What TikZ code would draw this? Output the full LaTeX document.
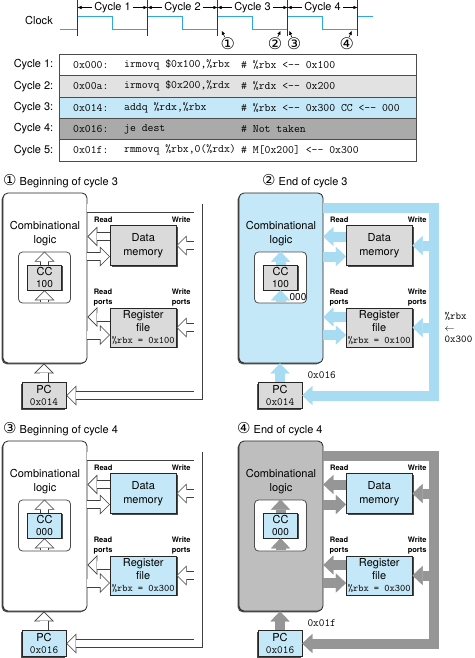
\documentclass[tikz,border=0pt]{standalone}
\usepackage{fontspec}
\setmainfont{TeX Gyre Heros}
\newfontfamily\circfont{DejaVu Sans}
\usepackage{tikz}
\usetikzlibrary{arrows.meta,shadows}

\definecolor{clockblue}{RGB}{45,170,220}
\definecolor{paleblue}{RGB}{196,232,247}
\definecolor{busblue}{RGB}{168,220,243}
\definecolor{boxgray}{RGB}{218,218,218}
\definecolor{rowgray}{RGB}{226,226,226}
\definecolor{darkrow}{RGB}{170,170,170}
\definecolor{clgray}{RGB}{190,190,190}
\definecolor{busgray}{RGB}{150,150,150}

\newcommand{\drawBus}[2]{
    % feedback bus to the state elements
    \draw[#1] (cl#2.east |- ne#2) -- (ne#2) -- (se#2) -- (pc#2.east |- se#2);
    \draw[#1] (ne#2 |- dm#2.east) -- (dm#2.east);
    \draw[#1] (ne#2 |- rf#2.east) -- (rf#2.east);
    % read and write ports
    \draw[#1] (dmr#2) -- (dmr#2 -| cl#2.east);
    \draw[#1] (dmw#2 -| cl#2.east) -- (dmw#2);
    \draw[#1] (rfr#2) -- (rfr#2 -| cl#2.east);
    \draw[#1] (rfw#2 -| cl#2.east) -- (rfw#2);
    % PC and condition codes
    \draw[#1] (pc#2.north) -- (pc#2.north |- cl#2.south);
    \draw[#1] (cc#2.north) -- (cc#2.north |- ccout#2.north);
    \draw[#1] (ccb#2) -- (cc#2.south);
}

\newcommand{\drawStage}[8]{
    \begin{scope}[shift={(#1)}]
        \node[clbox,fill=#3] (cl#2) at (45,278) {};
        \node[txt,align=center] (cltext#2) at (45,234) {Combinational\\logic};
        \node[ccframe] (ccout#2) at (44.5,277.5) {};
        \node[unit,fill=#4,minimum width=34pt,minimum height=25pt] (cc#2) at (44.5,277.5) {CC\\{\fontsize{10}{12}\selectfont #6}};
        \node[unit,fill=#4,minimum width=66pt,minimum height=40pt,font=\fontsize{11}{14}\selectfont] (dm#2) at (143.25,245.5) {Data\\memory};
        \node[unit,fill=#4,minimum width=66pt,minimum height=39pt,font=\fontsize{11}{12.5}\selectfont] (rf#2) at (143.25,327.5) {Register\\file\\{\ttfamily\fontsize{10}{12.5}\selectfont\%rbx = #7}};
        \node[pcunit,fill=#4] (pc#2) at (44,395.5) {PC\\{\ttfamily\fontsize{11}{11.6}\selectfont #8}};

        \node[port] (dmread#2) at (103.3,219.3) {Read};
        \node[port] (dmwrite#2) at (181.2,219.3) {Write};
        \node[port] (rfread#2) at (103,297.5) {Read\\ports};
        \node[port] (rfwrite#2) at (181.2,297.5) {Write\\ports};

        % --- Bus corners and port offsets ---
        \coordinate (ne#2) at (198,208);
        \coordinate (se#2) at (198,395.5);
        \coordinate (dmr#2) at ([yshift=9pt]dm#2.west);
        \coordinate (dmw#2) at ([yshift=-11pt]dm#2.west);
        \coordinate (rfr#2) at ([yshift=10.5pt]rf#2.west);
        \coordinate (rfw#2) at ([yshift=-7.5pt]rf#2.west);
        \coordinate (ccb#2) at ([yshift=1pt]ccout#2.south);

        \drawBus{#5A}{#2}
        \drawBus{#5B}{#2}
    \end{scope}
}

\begin{document}
\begin{tikzpicture}[x=1pt,y=-1pt,>={Latex[length=4pt,width=3.5pt]},
    txt/.style={font=\fontsize{11}{14}\selectfont,inner sep=0pt},
    wave/.style={draw=clockblue,line width=1pt},
    edgeline/.style={draw=black!80,line width=0.6pt},
    cyclab/.style={font=\fontsize{11}{13}\selectfont,inner sep=2pt},
    marker/.style={font=\circfont\fontsize{16}{16}\selectfont,inner sep=0pt},
    pointer/.style={->,line width=0.6pt},
    rowbox/.style={draw=black!70,line width=0.8pt,minimum width=356.7pt,minimum height=21.33pt,inner sep=0pt},
    code/.style={font=\ttfamily\fontsize{11.4}{13}\selectfont,anchor=west,inner sep=0pt},
    rowlab/.style={font=\fontsize{11}{13}\selectfont,anchor=east,inner sep=0pt},
    stagetitle/.style={font=\fontsize{11}{13}\selectfont,anchor=west,inner sep=0pt},
    clbox/.style={draw=black!85,line width=0.8pt,rounded corners=5pt,minimum width=84pt,minimum height=170pt,inner sep=0pt,
        drop shadow={shadow xshift=-1.3pt,shadow yshift=-1.3pt,fill=black!70,opacity=1}},
    ccframe/.style={draw=black!70,line width=0.8pt,rounded corners=4pt,fill=white,minimum width=52pt,minimum height=51pt,inner sep=0pt},
    unit/.style={draw=black!85,line width=0.7pt,align=center,inner sep=0pt,font=\fontsize{11}{12.3}\selectfont,
        drop shadow={shadow xshift=1.3pt,shadow yshift=-1.3pt,fill=black!70,opacity=1}},
    pcunit/.style={draw=black!85,line width=0.7pt,align=center,inner sep=0pt,font=\fontsize{11}{11.6}\selectfont,
        minimum width=44pt,minimum height=26pt,
        drop shadow={shadow xshift=-1.3pt,shadow yshift=-1.3pt,fill=black!70,opacity=1}},
    port/.style={font=\bfseries\fontsize{7.5}{10.5}\selectfont,align=center,inner sep=0pt},
    valtt/.style={font=\ttfamily\fontsize{11}{10.5}\selectfont,inner sep=0pt},
    valsf/.style={font=\fontsize{10}{12}\selectfont,inner sep=0pt},
    hollowA/.style={draw=black!75,line width=9pt,-{Triangle[length=10pt,width=20pt,line width=0pt]}},
    hollowB/.style={draw=white,line width=7.4pt,shorten >=1.13pt,-{Triangle[length=8.07pt,width=16.14pt,line width=0pt]}},
    blueA/.style={draw=busblue,line width=10pt,-{Triangle[length=10pt,width=19pt,line width=0pt]}},
    blueB/.style={blueA},
    grayA/.style={draw=busgray,line width=10pt,-{Triangle[length=10pt,width=19pt,line width=0pt]}},
    grayB/.style={grayA}]

    \useasboundingbox (0,0) rectangle (474,658);

    % --- Clock ---
    \node[txt] (clock) at (39,20) {Clock};
    \draw[wave] (60,29.3) -- (77,29.3) -- (77,16.7) -- (112,16.7) -- (112,29.3) -- (147,29.3) -- (147,16.7)
        -- (182,16.7) -- (182,29.3) -- (217,29.3) -- (217,16.7) -- (252,16.7) -- (252,29.3) -- (287,29.3)
        -- (287,16.7) -- (322,16.7) -- (322,29.3) -- (357,29.3) -- (357,16.7) -- (373,16.7);

    \coordinate (e0) at (77.5,0);
    \coordinate (e1) at (147.5,0);
    \coordinate (e2) at (217.5,0);
    \coordinate (e3) at (287.5,0);
    \coordinate (e4) at (357.5,0);
    \draw[edgeline] (e0) -- ++(0,36);
    \draw[edgeline] (e1) -- ++(0,36);
    \draw[edgeline] (e2) -- ++(0,36);
    \draw[edgeline] (e3) -- ++(0,36);
    \draw[edgeline] (e4) -- ++(0,36);

    \node[cyclab] (cyc1) at (112.5,7.5) {Cycle 1};
    \node[cyclab] (cyc2) at (182.5,7.5) {Cycle 2};
    \node[cyclab] (cyc3) at (252.5,7.5) {Cycle 3};
    \node[cyclab] (cyc4) at (322.5,7.5) {Cycle 4};
    \draw[->] (cyc1) -- (cyc1 -| e0);
    \draw[->] (cyc1) -- (cyc1 -| e1);
    \draw[->] (cyc2) -- (cyc2 -| e1);
    \draw[->] (cyc2) -- (cyc2 -| e2);
    \draw[->] (cyc3) -- (cyc3 -| e2);
    \draw[->] (cyc3) -- (cyc3 -| e3);
    \draw[->] (cyc4) -- (cyc4 -| e3);
    \draw[->] (cyc4) -- (cyc4 -| e4);

    % Points in time
    \node[marker] (m1) at (227.7,43.3) {①};
    \node[marker] (m2) at (275,43.3) {②};
    \node[marker] (m3) at (294,43.3) {③};
    \node[marker] (m4) at (346.7,43.3) {④};
    \coordinate (p1) at (221.7,30.7);
    \coordinate (p2) at (280.5,30.7);
    \coordinate (p3) at (289.3,30.7);
    \coordinate (p4) at (351.7,30.7);
    \draw[pointer] (m1) -- (p1);
    \draw[pointer] (m2) -- (p2);
    \draw[pointer] (m3) -- (p3);
    \draw[pointer] (m4) -- (p4);

    % --- Instruction table ---
    \node[rowbox] (row1) at (237.65,64.97) {};
    \node[rowbox,fill=rowgray] (row2) at (237.65,86.3) {};
    \node[rowbox,fill=paleblue] (row3) at (237.65,107.63) {};
    \node[rowbox,fill=darkrow] (row4) at (237.65,128.97) {};
    \node[rowbox] (row5) at (237.65,150.3) {};

    \node[rowlab] (lab1) at (53.5,0 |- row1) {Cycle 1:};
    \node[rowlab] (lab2) at (53.5,0 |- row2) {Cycle 2:};
    \node[rowlab] (lab3) at (53.5,0 |- row3) {Cycle 3:};
    \node[rowlab] (lab4) at (53.5,0 |- row4) {Cycle 4:};
    \node[rowlab] (lab5) at (53.5,0 |- row5) {Cycle 5:};

    \node[code] (addr1) at (73,0 |- row1) {0x000:};
    \node[code] (addr2) at (73,0 |- row2) {0x00a:};
    \node[code] (addr3) at (73,0 |- row3) {0x014:};
    \node[code] (addr4) at (73,0 |- row4) {0x016:};
    \node[code] (addr5) at (73,0 |- row5) {0x01f:};

    \node[code] (ins1) at (124,0 |- row1) {irmovq \$0x100,\%rbx};
    \node[code] (ins2) at (124,0 |- row2) {irmovq \$0x200,\%rdx};
    \node[code] (ins3) at (124,0 |- row3) {addq \%rdx,\%rbx};
    \node[code] (ins4) at (124,0 |- row4) {je dest};
    \node[code] (ins5) at (124,0 |- row5) {rmmovq \%rbx,0(\%rdx)};

    \node[code] (cmt1) at (241,0 |- row1) {\# \%rbx <-{}- 0x100};
    \node[code] (cmt2) at (241,0 |- row2) {\# \%rdx <-{}- 0x200};
    \node[code] (cmt3) at (241,0 |- row3) {\# \%rbx <-{}- 0x300 CC <-{}- 000};
    \node[code] (cmt4) at (241,0 |- row4) {\# Not taken};
    \node[code] (cmt5) at (241,0 |- row5) {\# M[0x200] <-{}- 0x300};

    % --- Stages ---
    \node[stagetitle] (title1) at (3,181.3) {{\circfont\fontsize{15}{13}\selectfont ①} Beginning of cycle 3};
    \node[stagetitle] (title2) at (262,181.3) {{\circfont\fontsize{15}{13}\selectfont ②} End of cycle 3};
    \node[stagetitle] (title3) at (3,429.3) {{\circfont\fontsize{15}{13}\selectfont ③} Beginning of cycle 4};
    \node[stagetitle] (title4) at (237,429.3) {{\circfont\fontsize{15}{13}\selectfont ④} End of cycle 4};

    \drawStage{0,0}{1}{white}{boxgray}{hollow}{100}{0x100}{0x014}
    \drawStage{236,0}{2}{paleblue}{boxgray}{blue}{100}{0x100}{0x014}
    \drawStage{0,248}{3}{white}{paleblue}{hollow}{000}{0x300}{0x016}
    \drawStage{236,248}{4}{clgray}{paleblue}{gray}{000}{0x300}{0x016}

    % New values at the end of a cycle
    \node[valsf] (newcc2) at (298,297) {000};
    \node[valtt] (newpc2) at (321.7,375) {0x016};
    \node[valtt,anchor=west,align=left,font=\ttfamily\fontsize{10.5}{11.2}\selectfont] (newreg2) at (444.5,327.5)
        {\%rbx\\{\fontsize{10}{11.2}\selectfont$\leftarrow$}\\0x300};
    \node[valtt] (newpc4) at (321.7,623) {0x01f};

\end{tikzpicture}
\end{document}
